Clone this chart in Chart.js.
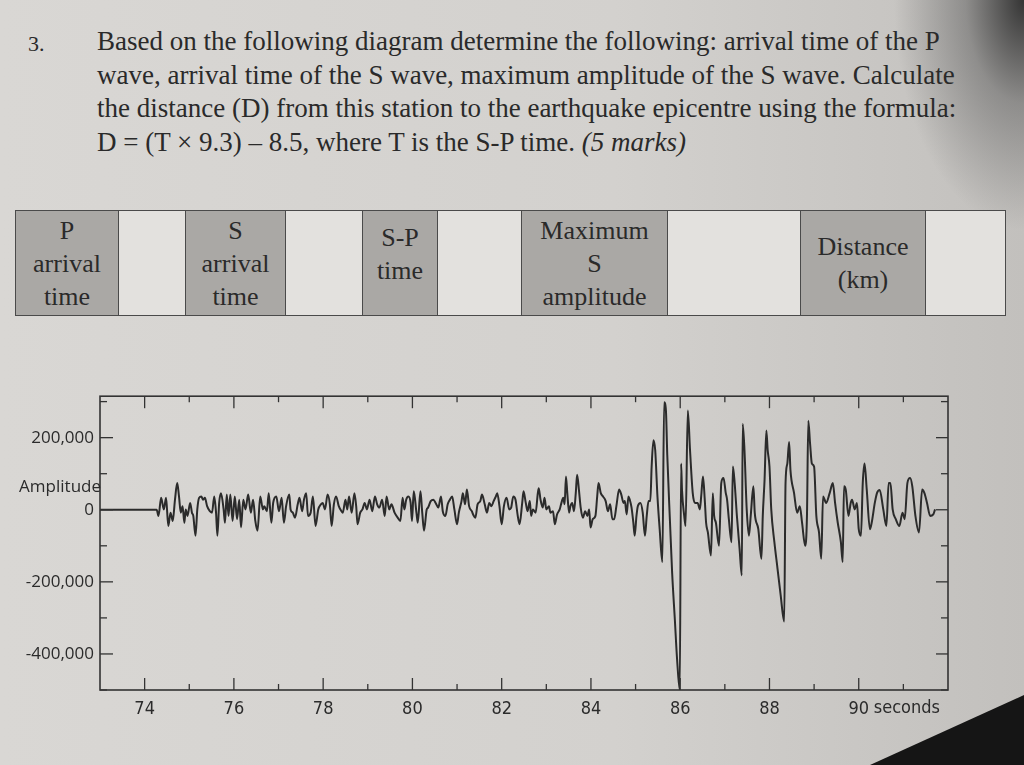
<!DOCTYPE html>
<html lang="en">
<head>
<meta charset="UTF-8">
<title>Seismogram</title>
<script src="https://cdn.jsdelivr.net/npm/chart.js@4.4.1/dist/chart.umd.min.js"></script>
<style>
    html, body { margin: 0; padding: 0; }
    body {
        width: 1024px; height: 765px; overflow: hidden; position: relative;
        background: linear-gradient(to right, #d9d7d4 0%, #d3d1ce 60%, #c2c0bd 100%);
        color: #2a2a2a;
    }
    .shade-tr {
        position: absolute; left: 0; top: 0; width: 1024px; height: 765px;
        background: radial-gradient(ellipse 130px 230px at 100% 0%, rgba(45,45,45,0.95) 0%, rgba(90,90,90,0.5) 45%, rgba(150,150,150,0) 100%);
    }
    .shade-br {
        position: absolute; left: 0; top: 0; width: 1024px; height: 765px;
        background: #151515;
        clip-path: polygon(1024px 695px, 1024px 765px, 870px 765px);
    }
    .num { position: absolute; left: 28px; top: 31px; font: 22px "Liberation Serif", serif; }
    .question {
        position: absolute; left: 97px; top: 25px;
        font: 27px "Liberation Serif", serif; line-height: 33.5px; white-space: nowrap;
    }
    .question i { font-style: italic; }
    table {
        position: absolute; left: 15px; top: 210px; width: 990px; height: 106px;
        border-collapse: collapse; table-layout: fixed;
        font: 26px "Liberation Serif", serif; line-height: 33px;
    }
    td { border: 1.5px solid #4a4a4a; padding: 0; text-align: center; }
    td.h { background: #aaa8a5; }
    td.e { background: #e3e1de; }
    #wrap { position: absolute; left: 0; top: 380px; width: 1024px; height: 340px; }
</style>
</head>
<body>
<div class="shade-tr"></div>
<div class="shade-br"></div>

<div class="num">3.</div>
<div class="question">
    Based on the following diagram determine the following: arrival time of the P<br>
    wave, arrival time of the S wave, maximum amplitude of the S wave. Calculate<br>
    the distance (D) from this station to the earthquake epicentre using the formula:<br>
    D = (T × 9.3) – 8.5, where T is the S-P time. <i>(5 marks)</i>
</div>

<table>
    <colgroup>
        <col style="width:103px"><col style="width:67px"><col style="width:100px"><col style="width:77px">
        <col style="width:75px"><col style="width:84px"><col style="width:146px"><col style="width:133px">
        <col style="width:125px"><col style="width:80px">
    </colgroup>
    <tr>
        <td class="h">P<br>arrival<br>time</td><td class="e"></td>
        <td class="h">S<br>arrival<br>time</td><td class="e"></td>
        <td class="h" style="vertical-align:top;padding-top:10px">S-P<br>time</td><td class="e"></td>
        <td class="h">Maximum<br>S<br>amplitude</td><td class="e"></td>
        <td class="h">Distance<br>(km)</td><td class="e"></td>
    </tr>
</table>

<div id="wrap"><canvas id="seismo" width="1024" height="340"></canvas></div>

<script>
// time axis (seconds) and trace amplitude (thousands)
const times = [
    73.00, 74.27, 74.31, 74.37, 74.43, 74.48, 74.53, 74.58, 74.63, 74.68, 74.73, 74.77, 74.81, 74.85, 74.89, 74.92,
    74.96, 75.02, 75.06, 75.09, 75.14, 75.18, 75.22, 75.27, 75.31, 75.35, 75.40, 75.46, 75.51, 75.56, 75.60, 75.63,
    75.67, 75.71, 75.77, 75.80, 75.84, 75.88, 75.92, 75.97, 76.02, 76.07, 76.12, 76.16, 76.21, 76.26, 76.32, 76.38,
    76.43, 76.48, 76.53, 76.59, 76.65, 76.68, 76.74, 76.78, 76.84, 76.88,
    76.95, 77.01, 77.07, 77.12, 77.17, 77.24, 77.27, 77.32, 77.37, 77.43, 77.47, 77.53, 77.57, 77.62, 77.66, 77.72,
    77.77, 77.83, 77.89, 77.95, 77.99, 78.04, 78.10, 78.15, 78.19, 78.24, 78.29, 78.35, 78.41, 78.44, 78.50, 78.54,
    78.58, 78.64, 78.70, 78.74, 78.77, 78.83, 78.88, 78.93, 78.98, 79.04, 79.10, 79.16, 79.21, 79.26, 79.32, 79.38,
    79.42, 79.48, 79.53,
    79.60, 79.67, 79.73, 79.78, 79.82, 79.86, 79.91, 79.96, 79.99, 80.03, 80.09, 80.12, 80.18, 80.22, 80.26, 80.32,
    80.35, 80.41, 80.47, 80.52, 80.58, 80.64, 80.68, 80.74, 80.79, 80.84, 80.89, 80.94, 81.00, 81.04, 81.10, 81.13,
    81.18, 81.22, 81.27, 81.33, 81.36, 81.41, 81.46, 81.52, 81.56, 81.62, 81.67, 81.72, 81.77, 81.82, 81.87, 81.90,
    81.95, 82.00, 82.05, 82.11, 82.17,
    82.21, 82.26, 82.31, 82.36, 82.40, 82.46, 82.49, 82.54, 82.58, 82.63, 82.66, 82.70, 82.76, 82.81, 82.83, 82.87,
    82.92, 82.96, 83.00, 83.06, 83.09, 83.15, 83.19, 83.24, 83.30, 83.33, 83.38, 83.41, 83.44, 83.47, 83.51, 83.54,
    83.58, 83.62, 83.66, 83.69, 83.73, 83.77, 83.82, 83.87, 83.92, 83.96, 83.99, 84.04, 84.10, 84.14, 84.17, 84.22,
    84.27, 84.33, 84.38, 84.43, 84.48, 84.52, 84.57, 84.63, 84.68, 84.73, 84.76, 84.80,
    84.84, 84.87, 84.91, 84.95, 84.98, 85.02, 85.05, 85.11, 85.16, 85.21, 85.25, 85.29, 85.33, 85.36, 85.40, 85.44,
    85.49, 85.54, 85.60, 85.64, 85.68, 85.71, 85.77, 85.82, 85.88, 85.93, 85.99, 86.02, 86.04, 86.09, 86.12, 86.17,
    86.22, 86.28, 86.33, 86.39, 86.44, 86.47, 86.51, 86.55, 86.58, 86.62, 86.69, 86.73, 86.76, 86.80, 86.87, 86.92,
    86.97, 87.02, 87.05, 87.09, 87.15, 87.18, 87.22, 87.27, 87.33, 87.38, 87.40, 87.44, 87.49, 87.54, 87.58, 87.64,
    87.67, 87.75, 87.82, 87.85, 87.89, 87.93, 87.96, 88.00, 88.04, 88.11, 88.18, 88.25, 88.33, 88.36, 88.40, 88.44,
    88.47, 88.55, 88.62, 88.68, 88.73, 88.80, 88.84, 88.87, 88.91, 88.95, 89.00, 89.05, 89.11, 89.16, 89.20, 89.27,
    89.35, 89.42, 89.47, 89.53, 89.60, 89.64, 89.67, 89.71, 89.77, 89.82, 89.85, 89.91, 89.96, 90.00, 90.05, 90.09,
    90.13, 90.18, 90.25, 90.29, 90.36, 90.41, 90.47, 90.55, 90.62, 90.67, 90.71, 90.76, 90.83, 90.91, 90.98, 91.03,
    91.09, 91.15, 91.20, 91.27, 91.35, 91.42, 91.47, 91.53, 91.60, 91.67, 91.71
];
const amplitudeK = [
    0, 0, -17, 33, 1, 33, -45, -8, -31, 28, 74, 37, -8, 10, -36, 1,
    -17, 19, -8, -17, -72, 1, 33, 37, 28, 33, 10, -4, -8, 37, -8, -72,
    19, 46, 1, -36, 42, -17, 42, -31, 37, -26, 28, -49, 28, 1, 42, -8,
    28, -31, -58, 37, 1, 10, -4, 46, -36, 19,
    37, -4, 33, -36, 10, 42, 1, -8, -22, 15, 33, -4, 28, 46, -17, -8,
    37, -45, 1, 15, 19, 1, 42, 15, -45, 15, 37, 10, -4, -8, 28, 1,
    37, -8, 46, 10, -40, -8, 1, 19, 1, 28, -4, 37, 15, 6, 28, -17,
    37, 1, 15,
    -8, -22, -31, 33, 1, 28, 37, 19, -31, 51, -8, -36, 51, -8, -58, 1,
    6, 24, 28, 19, 6, 37, -4, -17, 15, 28, 37, 1, -40, -8, 24, 46,
    15, 56, 10, -4, -13, -22, 15, 24, 42, 15, -8, 19, 10, 24, 37, 46,
    10, -40, 10, 33, 1,
    5, 37, 28, -17, -40, 19, 51, 19, -4, 24, -17, 1, -8, 46, 60, 28,
    6, 33, 1, 10, -8, -4, -40, -13, 1, 15, 33, 15, 92, 46, -8, 10,
    19, -4, 46, 97, 56, 6, -22, -4, -17, 1, -49, -26, -17, 37, 74, 46,
    37, 24, -4, 15, -26, -26, 10, 56, 42, 19, 24, -13,
    37, 28, 6, -36, -72, -17, 10, 19, -8, -72, -17, 24, 24, 120, 193, 165,
    37, -54, -145, 298, 275, 152, -31, -177, -305, -415, -500, 128, 55, -17, -45, 275,
    165, 47, 19, 19, 1, 37, 92, 28, -36, -63, -127, 46, -17, -36, -100, 74,
    88, 47, 28, -26, -90, 120, 74, -17, -108, -182, 238, 165, 1, -72, -17, 65,
    -8, -54, -136, -17, 83, 220, 165, 120, 1, -90, -163, -236, -310, 74, 128, 188,
    110, 47, -8, 10, -36, -100, -17, 247, 183, 128, 119, -17, -63, -136, 37, 19,
    47, 74, 19, -36, -90, -145, 65, 55, -17, 19, 28, 1, 19, -54, -72, 74,
    128, 55, -54, -36, 19, 47, 55, 1, -45, 74, 74, 1, -26, -45, -8, -26,
    74, 88, 65, -17, -63, 56, 47, 19, -17, -13, 1
];
const xTickLabels = [74, 76, 78, 80, 82, 84, 86, 88, 90];
const xMinorTicks = [75, 77, 79, 81, 83, 85, 87, 89, 91];
const yTickLabels = [200000, 0, -200000, -400000];
const yMinorTicks = [300000, 100000, -100000, -300000, -500000];

const ink = '#2b2b2b';
const xFont = '"DejaVu Sans Condensed", "Liberation Sans Narrow", sans-serif';

// frame + inward tick marks, amplitude/seconds captions
const frameTicks = {
    id: 'frameTicks',
    afterDraw(chart) {
        const { ctx, chartArea: a, scales: { x, y } } = chart;
        ctx.save();
        ctx.strokeStyle = '#333';
        ctx.lineWidth = 1.6;
        ctx.strokeRect(a.left, a.top, a.right - a.left, a.bottom - a.top);

        ctx.lineWidth = 1.3;
        const tick = (x1, y1, x2, y2) => { ctx.beginPath(); ctx.moveTo(x1, y1); ctx.lineTo(x2, y2); ctx.stroke(); };
        xTickLabels.forEach(v => {
            const px = x.getPixelForValue(v);
            tick(px, a.bottom, px, a.bottom - 12);
            tick(px, a.top, px, a.top + 12);
        });
        xMinorTicks.forEach(v => {
            const px = x.getPixelForValue(v);
            tick(px, a.bottom, px, a.bottom - 6);
            tick(px, a.top, px, a.top + 6);
        });
        yTickLabels.forEach(v => {
            const py = y.getPixelForValue(v);
            tick(a.left, py, a.left + 13, py);
            tick(a.right, py, a.right - 12, py);
        });
        yMinorTicks.forEach(v => {
            const py = y.getPixelForValue(v);
            tick(a.left, py, a.left + 7, py);
            tick(a.right, py, a.right - 7, py);
        });

        ctx.fillStyle = ink;
        ctx.font = '17px "Open Sans", sans-serif';
        ctx.textAlign = 'right';
        ctx.textBaseline = 'middle';
        ctx.fillText('Amplitude', a.left + 1, y.getPixelForValue(0) - 23);

        ctx.font = '18px ' + xFont;
        ctx.textAlign = 'left';
        ctx.textBaseline = 'top';
        ctx.fillText('seconds', x.getPixelForValue(90) + 15, a.bottom + 9);
        ctx.restore();
    }
};

const points = times.map((t, i) => ({ x: t, y: amplitudeK[i] * 1000 }));

new Chart(document.getElementById('seismo'), {
    type: 'line',
    data: {
        datasets: [{
            data: points,
            borderColor: ink,
            borderWidth: 2,
            pointRadius: 0,
            cubicInterpolationMode: 'monotone',
            fill: false
        }]
    },
    options: {
        responsive: false,
        animation: false,
        devicePixelRatio: 1,
        layout: { padding: { top: 12, right: 76, left: 0, bottom: 0 } },
        plugins: { legend: { display: false }, tooltip: { enabled: false } },
        scales: {
            x: {
                type: 'linear', min: 73, max: 92,
                grid: { display: false, drawTicks: false },
                border: { display: false },
                afterBuildTicks: s => { s.ticks = xTickLabels.map(v => ({ value: v })); },
                afterFit: s => { s.height = 30; },
                ticks: {
                    autoSkip: false, maxRotation: 0, padding: 9, color: ink,
                    font: { family: xFont, size: 18 },
                    callback: v => String(v)
                }
            },
            y: {
                type: 'linear', min: -500000, max: 315000,
                grid: { display: false, drawTicks: false },
                border: { display: false },
                afterBuildTicks: s => { s.ticks = yTickLabels.map(v => ({ value: v })); },
                afterFit: s => { s.width = 100; },
                ticks: {
                    padding: 6, color: ink,
                    font: { family: '"Open Sans", sans-serif', size: 17 },
                    callback: v => v.toLocaleString('en-US')
                }
            }
        }
    },
    plugins: [frameTicks]
});
</script>
</body>
</html>
